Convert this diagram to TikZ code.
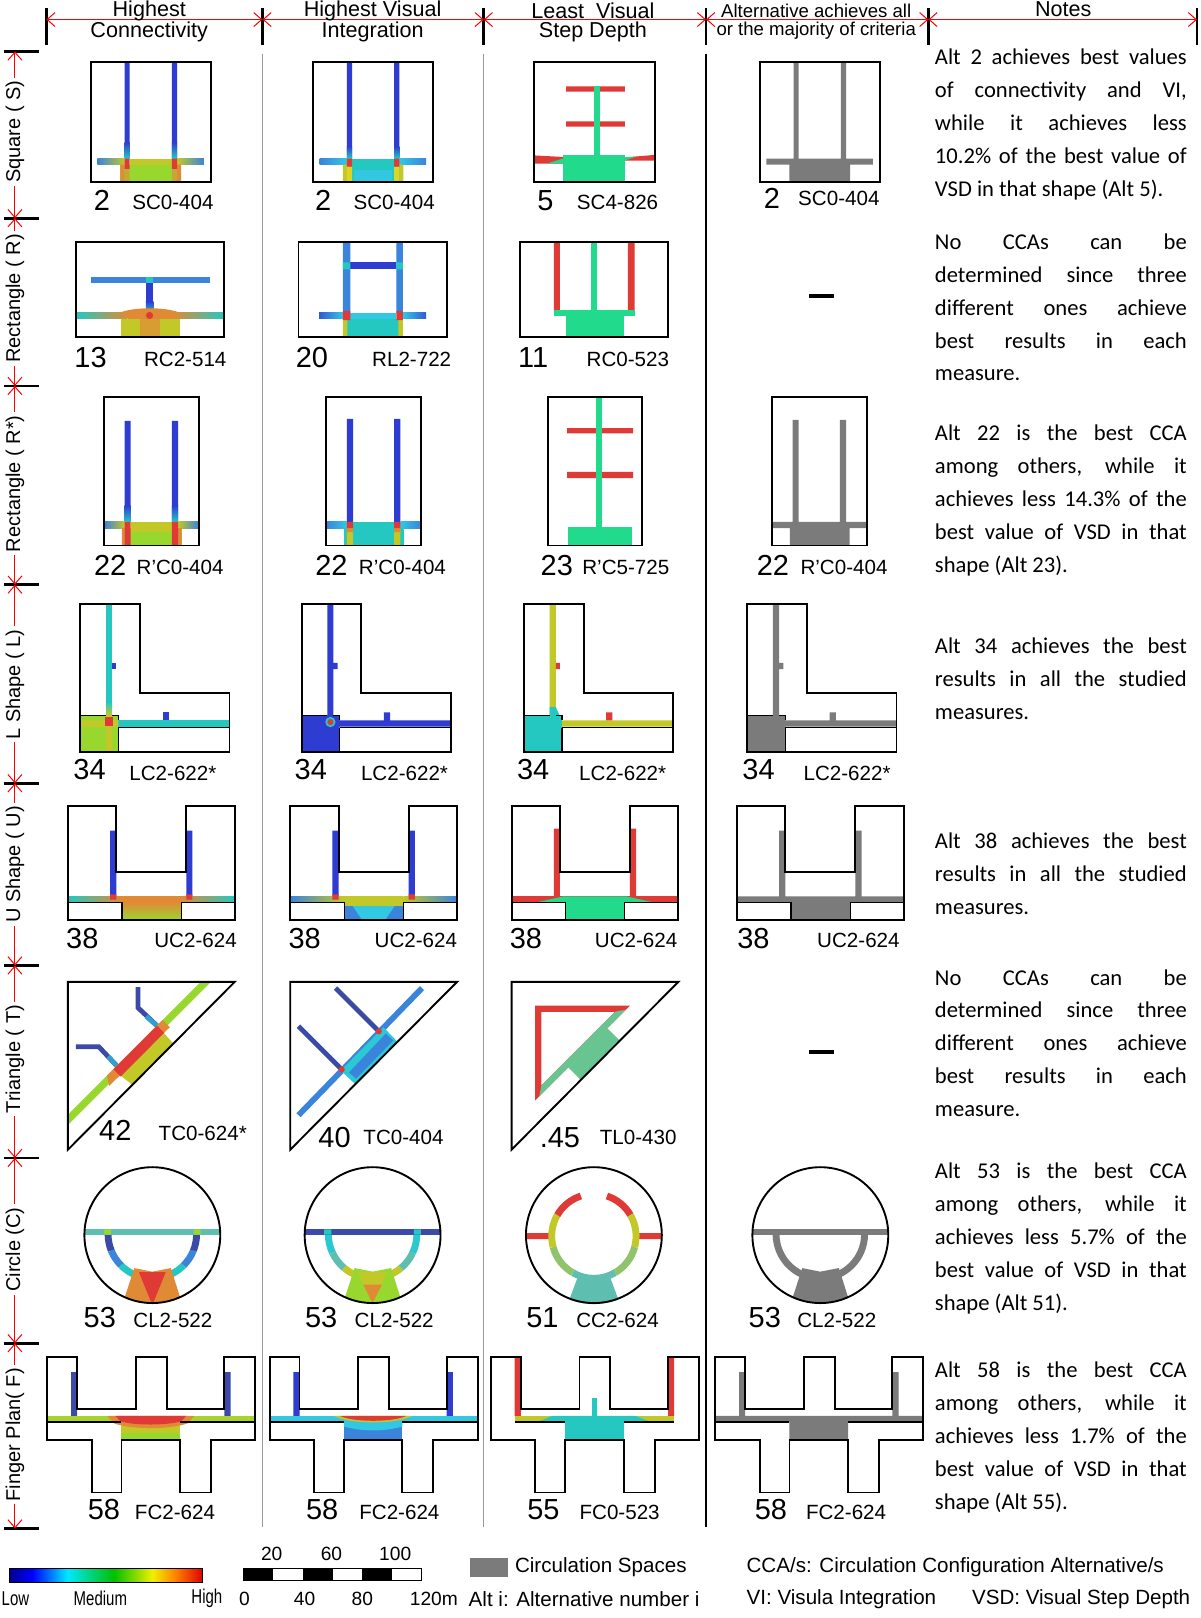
\documentclass[tikz,border=0pt]{standalone}
\usepackage{fontspec}
\setmainfont{Liberation Sans}
\newfontfamily\notesfont{Carlito}
\newfontfamily\condfont[FakeStretch=0.75]{Liberation Sans}
\usetikzlibrary{arrows.meta}
\definecolor{cDB}{HTML}{2F3CD2}
\definecolor{cNV}{HTML}{3A4AA6}
\definecolor{cMB}{HTML}{3A84DC}
\definecolor{cCY}{HTML}{24C8C0}
\definecolor{cLC}{HTML}{32C8E2}
\definecolor{cGR}{HTML}{22DA8C}
\definecolor{cYG}{HTML}{98D82E}
\definecolor{cOL}{HTML}{C2C828}
\definecolor{cYE}{HTML}{E6DC20}
\definecolor{cOR}{HTML}{E08A36}
\definecolor{cRD}{HTML}{E03A36}
\definecolor{cTL}{HTML}{5EBFB0}
\definecolor{cGY}{HTML}{7B7B7B}
\definecolor{cTG}{HTML}{68C490}
\definecolor{jA}{HTML}{00008F}
\definecolor{jB}{HTML}{0000FF}
\definecolor{jC}{HTML}{00E8FF}
\definecolor{jD}{HTML}{00C000}
\definecolor{jE}{HTML}{F0F000}
\definecolor{jF}{HTML}{FF8000}
\definecolor{jG}{HTML}{E00000}
\pgfdeclarehorizontalshading{jet}{100bp}{color(0bp)=(jA); color(25bp)=(jA); color(31bp)=(jB); color(40bp)=(jC); color(52bp)=(jD); color(62bp)=(jE); color(68bp)=(jF); color(75bp)=(jG); color(100bp)=(jG)}
\newcommand\Loutline{\draw[wall] (0,0) -- (58,0) -- (58,86) -- (145,86) -- (145,144) -- (0,144) -- cycle;}
\newcommand\Llines{\draw[inwall] (0,108) -- (25,108) (31,108) -- (37,108) -- (37,113) (37,120) -- (145,120) (37,120) -- (37,144);}
\newcommand\Uoutline{\draw[wall] (0,0) -- (47,0) -- (47,64) -- (115,64) -- (115,0) -- (162,0) -- (162,111) -- (0,111) -- cycle;}
\newcommand\Ulines{\draw[inwall] (0,93.5) -- (52.5,93.5) -- (52.5,111) (162,93.5) -- (110,93.5) -- (110,111);}
\newcommand\Toutline{\draw[wall] (0,0) -- (162,0) -- (0,163) -- cycle;}
\newcommand\Foutline{\draw[wall] (0,0) -- (29,0) -- (29,51) -- (86,51) -- (86,0) -- (116,0) -- (116,51) -- (172,51) -- (172,0) -- (202,0) -- (202,81) -- (159,81) -- (159,132) -- (129,132) -- (129,81) -- (72,81) -- (72,132) -- (43,132) -- (43,81) -- (0,81) -- cycle;}
\newcommand\Flines{\draw[inwall] (0,63.5) -- (72,63.5) (202,63.5) -- (129,63.5);}
\begin{document}
\begin{tikzpicture}[x=0.515pt,y=-0.515pt,
 wall/.style={draw=black,line width=0.95pt,line join=miter},
 inwall/.style={draw=black,line width=0.6pt},
 ring/.style={line width=3.45pt},
 lbl/.style={inner sep=0pt,font=\fontsize{10.3}{12}\selectfont},
 num/.style={inner sep=0pt,font=\fontsize{14.5}{16}\selectfont},
 hdr/.style={inner sep=0pt,font=\fontsize{10.8}{12}\selectfont},
 hdrs/.style={inner sep=0pt,font=\fontsize{9.3}{11}\selectfont},
 rowlbl/.style={inner sep=1.5pt,fill=white,rotate=90,font=\fontsize{10}{12}\selectfont},
 note/.style={inner sep=0pt,anchor=base west,text width=126pt,align=justify,font=\notesfont\fontsize{11.3}{16.5}\selectfont},
 leg/.style={inner sep=0pt,anchor=west,font=\fontsize{10.3}{12}\selectfont},
 legn/.style={inner sep=0pt,font=\fontsize{9.6}{11}\selectfont},
 legc/.style={inner sep=0pt,font=\condfont\fontsize{10}{12}\selectfont},
 redarr/.style={draw=red,line width=0.5pt,{Straight Barb[length=4pt,width=7pt]}-{Straight Barb[length=4pt,width=7pt]}},
 tick/.style={line width=1.4pt},
 branch/.style={line width=2.4pt,line join=miter},
 gdiv/.style={draw=black!40,line width=0.5pt},
 bdiv/.style={draw=black,line width=1.1pt},
]
\useasboundingbox (0,0) rectangle (1166,1572);
\fill[white] (0,0) rectangle (1166,1572);
% ---------- header ----------
\foreach \x in {45,255,470,686,902,1163} \draw[tick] (\x,8) -- (\x,44);
\coordinate (h1) at (45,19); \coordinate (h2) at (255,19); \coordinate (h3) at (470,19);
\coordinate (h4) at (686,19); \coordinate (h5) at (902,19); \coordinate (h6) at (1163,19);
\draw[redarr] (h1) -- (h2); \draw[redarr] (h2) -- (h3); \draw[redarr] (h3) -- (h4);
\draw[redarr] (h4) -- (h5); \draw[redarr] (h5) -- (h6);
\node[hdr] (t1a) at (145,10.5) {Highest};
\node[hdr] (t1b) at (145,31.5) {Connectivity};
\node[hdr] (t2a) at (362,10.5) {Highest Visual};
\node[hdr] (t2b) at (362,31.5) {Integration};
\node[hdr] (t3a) at (576,10.5) {Least\ \ Visual};
\node[hdr] (t3b) at (576,31.5) {Step Depth};
\node[hdrs] (t4a) at (793,11) {Alternative achieves all};
\node[hdrs] (t4b) at (793,30) {or the majority of criteria};
\node[hdr] (t5) at (1033,9) {Notes};
% ---------- dividers ----------
\draw[gdiv] (255,52) -- (255,1484);
\draw[gdiv] (470,52) -- (470,1484);
\draw[bdiv] (686,52) -- (686,1484);
% ---------- left ruler ----------
\foreach \y in {50,212,375,568,761,938,1125,1305,1485} \draw[tick] (4,\y) -- (38,\y);
\coordinate (r0) at (14.5,50); \coordinate (r1) at (14.5,212); \coordinate (r2) at (14.5,375);
\coordinate (r3) at (14.5,568); \coordinate (r4) at (14.5,761); \coordinate (r5) at (14.5,938);
\coordinate (r6) at (14.5,1125); \coordinate (r7) at (14.5,1305); \coordinate (r8) at (14.5,1485);
\draw[redarr] (r0) -- (r1); \draw[redarr] (r1) -- (r2); \draw[redarr] (r2) -- (r3);
\draw[redarr] (r3) -- (r4); \draw[redarr] (r4) -- (r5); \draw[redarr] (r5) -- (r6);
\draw[redarr] (r6) -- (r7); \draw[redarr] (r7) -- (r8);
\node[rowlbl] (lS) at (14.5,128) {Square ( S)};
\node[rowlbl] (lR) at (14.5,290) {Rectangle ( R)};
\node[rowlbl] (lRs) at (14.5,470) {Rectangle ( R*)};
\node[rowlbl] (lL) at (14.5,665) {L Shape ( L)};
\node[rowlbl] (lU) at (14.5,840) {U Shape ( U)};
\node[rowlbl] (lT) at (14.5,1029) {Triangle ( T)};
\node[rowlbl] (lC) at (14.5,1214) {Circle (C)};
\node[rowlbl] (lF) at (14.5,1394) {Finger Plan( F)};
% ================= ROW S =================
\begin{scope}[shift={(88,60)}]
\fill[cDB] (33,0) rectangle (38,94) (79,0) rectangle (84,94);
\shade[top color=cDB,bottom color=cCY] (33,78) rectangle (38,94);
\shade[top color=cDB,bottom color=cCY] (79,78) rectangle (84,94);
\shade[left color=cMB,right color=cOL] (6.5,94) rectangle (33,100);
\shade[left color=cOL,right color=cMB] (84,94) rectangle (110,100);
\fill[cOL] (38,94) rectangle (79,100);
\fill[cYG] (29,100) rectangle (88,117);
\fill[cOR] (29,100) rectangle (33,117) (84,100) rectangle (88,117);
\fill[cOR!60!cYG] (33,104) rectangle (38,117) (79,104) rectangle (84,117);
\fill[cRD] (33,94) rectangle (38,104) (79,94) rectangle (84,104);
\draw[wall] (0,0) rectangle (117,117);
\end{scope}
\begin{scope}[shift={(304,60)}]
\fill[cDB] (33,0) rectangle (38,94) (79,0) rectangle (84,94);
\shade[top color=cDB,bottom color=cCY] (33,82) rectangle (38,94);
\shade[top color=cDB,bottom color=cCY] (79,82) rectangle (84,94);
\shade[left color=cMB,right color=cLC] (6.5,94) rectangle (33,100);
\shade[left color=cLC,right color=cMB] (84,94) rectangle (110,100);
\fill[cCY] (38,94) rectangle (79,100);
\fill[cCY] (29,100) rectangle (88,117);
\fill[cLC] (40,105) rectangle (77,117);
\fill[cOL] (29,100) rectangle (33,117) (84,100) rectangle (88,117);
\fill[cYE!70!cOL] (33,102) rectangle (38,117) (79,102) rectangle (84,117);
\fill[cRD] (33,94) rectangle (38,102) (79,94) rectangle (84,102);
\draw[wall] (0,0) rectangle (117,117);
\end{scope}
\begin{scope}[shift={(519,60)}]
\fill[cRD] (31,24) rectangle (88,29) (31,58) rectangle (88,63);
\fill[cGR] (58,24) rectangle (64,92);
\fill[cGR] (28,91) rectangle (88,117);
\fill[cRD] (0,91) -- (28,92.5) -- (28,99) -- (0,99) -- cycle;
\fill[cGR] (12,99) -- (28,94) -- (28,99) -- cycle;
\fill[cRD] (88,93) -- (117,90.5) -- (117,96) -- (88,96) -- cycle;
\fill[cGR] (88,93) -- (100,92) -- (88,96) -- cycle;
\draw[wall] (0,0) rectangle (117,117);
\end{scope}
\begin{scope}[shift={(738,60)}]
\fill[cGY] (33,0) rectangle (38,94) (79,0) rectangle (84,94) (6.5,94) rectangle (110,100) (29,100) rectangle (88,117);
\draw[wall] (0,0) rectangle (117,117);
\end{scope}
\node[num] (nS1) at (99,195) {2};   \node[lbl] (cS1) at (168,197) {SC0-404};
\node[num] (nS2) at (314,195) {2};  \node[lbl] (cS2) at (383,197) {SC0-404};
\node[num] (nS3) at (530,195) {5};  \node[lbl] (cS3) at (600,197) {SC4-826};
\node[num] (nS4) at (750,193) {2};  \node[lbl] (cS4) at (815,193) {SC0-404};
% ================= ROW R =================
\begin{scope}[shift={(74,235)}]
\fill[cMB] (14.4,34.5) rectangle (129.6,40);
\fill[cCY] (67.7,34.5) rectangle (74.9,40);
\fill[cDB] (67.7,40) rectangle (74.9,62);
\shade[top color=cDB,bottom color=cCY] (67.7,58) rectangle (74.9,69);
\shade[left color=cCY,right color=cOR] (0,69) rectangle (50,74.5);
\fill[cOR] (50,69) rectangle (94,74.5);
\shade[left color=cOR,right color=cCY] (94,69) rectangle (144,74.5);
\fill[cOR] (42,69) .. controls (55,63) and (88,63) .. (101,69) -- cycle;
\fill[cOL] (43.2,74.5) rectangle (100.8,92);
\fill[cOR!70!cOL] (62,74.5) rectangle (81,92);
\fill[cRD] (71.3,71.5) circle (3.5);
\draw[wall] (0,0) rectangle (144,92);
\end{scope}
\begin{scope}[shift={(290,235)}]
\fill[cMB] (43.2,0) rectangle (50.4,69) (95,0) rectangle (101.5,69);
\fill[cDB] (50.4,20) rectangle (95,26.7);
\fill[cCY] (43.2,20) rectangle (50.4,26.7) (95,20) rectangle (101.5,26.7);
\shade[left color=cDB!60!cMB,right color=cLC] (20,69) rectangle (43.2,74.5);
\shade[left color=cLC,right color=cDB!60!cMB] (101.5,69) rectangle (124,74.5);
\fill[cLC] (50.4,69) rectangle (95,74.5);
\fill[cCY] (43.2,74.5) rectangle (101.5,92);
\fill[cOL] (43.2,74.5) rectangle (47.5,92) (97,74.5) rectangle (101.5,92);
\fill[cRD] (43.2,67) rectangle (50.4,76) (95,67) rectangle (101.5,76);
\draw[wall] (0,0) rectangle (144,92);
\end{scope}
\begin{scope}[shift={(505,235)}]
\fill[cRD] (33,0) rectangle (39,69) (105,0) rectangle (111.5,69);
\fill[cGR] (69,0) rectangle (75,69);
\fill[cGR] (33,66) rectangle (111.5,72.5);
\fill[cGR] (45,72.5) rectangle (101,92);
\draw[wall] (0,0) rectangle (144,92);
\end{scope}
\draw[line width=2pt] (786,288) -- (810,288);
\node[num] (nR1) at (88,347) {13};   \node[lbl] (cR1) at (180,349) {RC2-514};
\node[num] (nR2) at (303,347) {20};  \node[lbl] (cR2) at (400,349) {RL2-722};
\node[num] (nR3) at (518,347) {11};  \node[lbl] (cR3) at (610,349) {RC0-523};
% ================= ROW R* =================
\begin{scope}[shift={(101,386)}]
\fill[cDB] (20,23) rectangle (26,121) (66,23) rectangle (72,121);
\shade[top color=cDB,bottom color=cCY] (20,105) rectangle (26,121);
\shade[top color=cDB,bottom color=cCY] (66,105) rectangle (72,121);
\shade[left color=cMB,right color=cOL] (0,121) rectangle (20,127);
\shade[left color=cOL,right color=cMB] (72,121) rectangle (92,127);
\fill[cOL] (26,121) rectangle (66,127);
\fill[cYG] (17.5,127) rectangle (75.5,144);
\fill[cOL] (26,127) rectangle (66,131);
\fill[cOR] (17.5,127) rectangle (20,144) (72,127) rectangle (75.5,144);
\fill[cRD] (20,121) rectangle (26,144) (66,121) rectangle (72,144);
\draw[wall] (0,0) rectangle (92,144);
\end{scope}
\begin{scope}[shift={(317,386)}]
\fill[cDB] (20,21) rectangle (26,121) (66,21) rectangle (72,121);
\shade[left color=cMB,right color=cLC] (0,121) rectangle (20,127);
\shade[left color=cLC,right color=cMB] (72,121) rectangle (92,127);
\fill[cCY] (26,121) rectangle (66,127);
\fill[cCY] (17.5,127) rectangle (75.5,144);
\fill[cOL] (20,128) rectangle (26,144) (66,128) rectangle (72,144);
\fill[cOR] (20,126) rectangle (26,131) (66,126) rectangle (72,131);
\fill[cRD] (20,121) rectangle (26,127) (66,121) rectangle (72,127);
\draw[wall] (0,0) rectangle (92,144);
\end{scope}
\begin{scope}[shift={(532,386)}]
\fill[cRD] (19,30) rectangle (83,35) (19,72.5) rectangle (83,78.5);
\fill[cGR] (47,0) rectangle (53,126);
\fill[cGR] (20,126) rectangle (82,144);
\draw[wall] (0,0) rectangle (92,144);
\end{scope}
\begin{scope}[shift={(750,386)}]
\fill[cGY] (20,22) rectangle (26,121) (66,22) rectangle (72,121) (0,121) rectangle (92,127) (17.5,127) rectangle (75.5,144);
\draw[wall] (0,0) rectangle (92,144);
\end{scope}
\node[num] (nQ1) at (107,549) {22};  \node[lbl] (cQ1) at (175,551) {R'C0-404};
\node[num] (nQ2) at (322,549) {22};  \node[lbl] (cQ2) at (391,551) {R'C0-404};
\node[num] (nQ3) at (541,549) {23};  \node[lbl] (cQ3) at (608,551) {R'C5-725};
\node[num] (nQ4) at (751,549) {22};  \node[lbl] (cQ4) at (820,551) {R'C0-404};
% ================= ROW L =================
\begin{scope}[shift={(78,587)}]
\fill[cCY] (25,0) rectangle (31,108);
\fill[cDB] (31,57) rectangle (35,63);
\fill[cCY] (37,113) rectangle (145,119);
\fill[cDB] (80,105) rectangle (86,113);
\fill[cYG] (0,108) rectangle (37,144);
\fill[cOL] (25,108) rectangle (31,144) (0,113) rectangle (37,119);
\shade[top color=cCY,bottom color=cOL] (25,95) rectangle (31,108);
\fill[cRD] (24,110) rectangle (32,118);
\Llines \Loutline
\end{scope}
\begin{scope}[shift={(293,587)}]
\fill[cDB] (25,0) rectangle (31,108) (31,57) rectangle (35,63) (37,113) rectangle (145,119) (80,105) rectangle (86,113) (0,108) rectangle (37,144);
\fill[cCY] (28,114.5) circle (5);
\fill[cRD] (28,114.5) circle (3);
\Llines \Loutline
\end{scope}
\begin{scope}[shift={(509,587)}]
\fill[cOL] (25,0) rectangle (31,108) (37,113) rectangle (145,119);
\fill[cRD] (31,57) rectangle (35,63) (80,105) rectangle (86,113);
\fill[cCY] (0,108) rectangle (37,144);
\fill[cCY] (25,100) -- (31,100) -- (37,113) -- (37,119) -- (25,119) -- cycle;
\Llines \Loutline
\end{scope}
\begin{scope}[shift={(726,587)}]
\fill[cGY] (25,0) rectangle (31,108) (31,57) rectangle (35,63) (37,113) rectangle (145,119) (80,105) rectangle (86,113) (0,108) rectangle (37,144);
\Llines \Loutline
\end{scope}
\node[num] (nL1) at (87,748) {34};   \node[lbl] (cL1) at (168,751) {LC2-622*};
\node[num] (nL2) at (302,748) {34};  \node[lbl] (cL2) at (393,751) {LC2-622*};
\node[num] (nL3) at (518,748) {34};  \node[lbl] (cL3) at (605,751) {LC2-622*};
\node[num] (nL4) at (737,748) {34};  \node[lbl] (cL4) at (823,751) {LC2-622*};
% ================= ROW U =================
\begin{scope}[shift={(66,783)}]
\fill[cDB] (41,24) rectangle (47,88) (115,24) rectangle (121,88);
\shade[left color=cCY,right color=cOR] (0,88) rectangle (52,93.5);
\fill[cOR] (52,88) rectangle (110,93.5);
\shade[left color=cOR,right color=cCY] (110,88) rectangle (162,93.5);
\shade[top color=cOR,bottom color=cYG] (52.5,93.5) rectangle (110,111);
\fill[cRD] (41,86) rectangle (47,91) (115,86) rectangle (121,91);
\Ulines \Uoutline
\end{scope}
\begin{scope}[shift={(282,783)}]
\fill[cDB] (41,24) rectangle (47,88) (115,24) rectangle (121,88);
\shade[left color=cMB,right color=cOL] (0,88) rectangle (52,93.5);
\fill[cOL] (52,88) rectangle (110,93.5);
\shade[left color=cOL,right color=cMB] (110,88) rectangle (162,93.5);
\fill[cMB] (52.5,93.5) rectangle (110,111);
\fill[cLC] (58,93.5) -- (104,93.5) -- (92,111) -- (70,111) -- cycle;
\fill[cOL] (52.5,93.5) rectangle (110,97);
\fill[cRD] (41,86) rectangle (47,91) (115,86) rectangle (121,91);
\Ulines \Uoutline
\end{scope}
\begin{scope}[shift={(497,783)}]
\fill[cRD] (41,22) rectangle (47,88) (115,22) rectangle (121,88);
\fill[cRD] (0,88) rectangle (162,93.5);
\fill[cGR] (25,93.5) -- (50,88) -- (112,88) -- (137,93.5) -- cycle;
\fill[cGR] (52.5,93.5) rectangle (110,111);
\Ulines \Uoutline
\end{scope}
\begin{scope}[shift={(716,783)}]
\fill[cGY] (41,24) rectangle (47,88) (115,24) rectangle (121,88) (0,88) rectangle (162,93.5) (52.5,93.5) rectangle (110,111);
\Ulines \Uoutline
\end{scope}
\node[num] (nU1) at (80,912) {38};   \node[lbl] (cU1) at (190,914) {UC2-624};
\node[num] (nU2) at (296,912) {38};  \node[lbl] (cU2) at (404,914) {UC2-624};
\node[num] (nU3) at (511,912) {38};  \node[lbl] (cU3) at (618,914) {UC2-624};
\node[num] (nU4) at (732,912) {38};  \node[lbl] (cU4) at (834,914) {UC2-624};
% ================= ROW T =================
\begin{scope}[shift={(66,954)}]
\draw[branch,cNV] (68,5) -- (68,25) -- (86.5,42.5);
\draw[branch,cMB!60!cCY] (76,33.5) -- (86.5,42.5);
\draw[branch,cNV] (7.6,63) -- (30,63) -- (48,82);
\draw[branch,cMB!60!cCY] (39,72.5) -- (48,82);
\fill[cYG] (129,0) -- (139,0) -- (0,139) -- (0,129) -- cycle;
\fill[cOL] (87.8,43.7) -- (102.5,60) -- (63.3,100.4) -- (47.7,88.4) -- cycle;
\fill[cOR] (92,37) -- (99,44) -- (40,101) -- (38,91) -- cycle;
\fill[cRD] (86.5,42.5) -- (93.5,49.4) -- (51.2,91.9) -- (44.2,84.9) -- cycle;
\Toutline
\end{scope}
\begin{scope}[shift={(282,954)}]
\draw[branch,cNV] (86,48) -- (44,6);
\draw[branch,cNV] (50,85) -- (8,43);
\draw[line width=2.9pt,cMB] (128,6) -- (8,129.5);
\fill[cLC!60!cCY] (90.5,44) -- (104,58) -- (63.7,99.8) -- (49,86) -- cycle;
\fill[cMB] (93,50) -- (100,57) -- (64,94) -- (57,88) -- cycle;
\fill[cRD] (86,48) circle (3) (50,85) circle (3);
\Toutline
\end{scope}
\begin{scope}[shift={(497,954)}]
\fill[cRD,even odd rule] (23,23) -- (115,23) -- (23,115) -- cycle (29,29) -- (100.5,29) -- (29,100.5) -- cycle;
\fill[cTG] (111,27) -- (27,111) -- (29,100.5) -- (100.5,29) -- cycle;
\fill[cTG] (93,45) -- (105,57) -- (67,95) -- (55,83) -- cycle;
\Toutline
\end{scope}
\draw[line width=2pt] (786,1022) -- (810,1022);
\node[num] (nT1) at (112,1098) {42};  \node[lbl] (cT1) at (197,1101) {TC0-624*};
\node[num] (nT2) at (325,1105) {40};  \node[lbl] (cT2) at (392,1105) {TC0-404};
\node[num] (nT3) at (544,1105) {.45}; \node[lbl] (cT3) at (620,1105) {TL0-430};
% ================= ROW C =================
\begin{scope}[shift={(148,1200)}]
 \begin{scope}
  \clip (0,0) circle (66);
  \begin{scope}[shift={(0,-1)}]
   \draw[ring,cNV] (180:43) arc (180:158:43);
   \draw[ring,cMB] (158:43) arc (158:135:43);
   \draw[ring,cCY] (135:43) arc (135:115:43);
   \draw[ring,cYG] (115:43) arc (115:65:43);
   \draw[ring,cCY] (65:43) arc (65:45:43);
   \draw[ring,cMB] (45:43) arc (45:22:43);
   \draw[ring,cNV] (22:43) arc (22:0:43);
  \end{scope}
  \fill[cTL] (-70,-5.5) rectangle (70,-0.5);
  \fill[cYG] (-47,-5.5) rectangle (-40,-0.5) (40,-5.5) rectangle (47,-0.5);
  \fill[cOR] (-17.5,32) -- (0,35.5) -- (18,32) -- (30,70) -- (-30,70) -- cycle;
  \fill[cRD] (-13,36) -- (13,36) -- (0,68) -- cycle;
 \end{scope}
 \draw[wall] (0,0) circle (66);
\end{scope}
\begin{scope}[shift={(362,1200)}]
 \begin{scope}
  \clip (0,0) circle (66);
  \begin{scope}[shift={(0,-1)}]
   \draw[ring,cLC!50!cCY] (180:43) arc (180:155:43);
   \draw[ring,cTL] (155:43) arc (155:130:43);
   \draw[ring,cOL] (130:43) arc (130:110:43);
   \draw[ring,cYG] (110:43) arc (110:70:43);
   \draw[ring,cOL] (70:43) arc (70:50:43);
   \draw[ring,cTL] (50:43) arc (50:25:43);
   \draw[ring,cLC!50!cCY] (25:43) arc (25:0:43);
  \end{scope}
  \fill[cNV] (-70,-5.5) rectangle (70,-0.5);
  \fill[cCY] (-47,-5.5) rectangle (-40,-0.5) (40,-5.5) rectangle (47,-0.5);
  \fill[cYG] (-17.5,32) -- (0,35.5) -- (18,32) -- (30,70) -- (-30,70) -- cycle;
  \fill[cOL] (-14,36) -- (14,36) -- (8,50) -- (-8,50) -- cycle;
  \fill[cOR] (-9,48) -- (9,48) -- (0,66) -- cycle;
 \end{scope}
 \draw[wall] (0,0) circle (66);
\end{scope}
\begin{scope}[shift={(577,1201)}]
 \begin{scope}
  \clip (0,0) circle (66);
  \fill[cRD] (-70,-3) rectangle (-40,3) (40,-3) rectangle (70,3);
  \draw[ring,cRD] (288:41) arc (288:330:41);
  \draw[ring,cOL] (330:41) arc (330:375:41);
  \draw[ring,cOL!50!cTL] (15:41) arc (15:60:41);
  \draw[ring,cTL] (60:41) arc (60:120:41);
  \draw[ring,cOL!50!cTL] (120:41) arc (120:165:41);
  \draw[ring,cOL] (165:41) arc (165:210:41);
  \draw[ring,cRD] (210:41) arc (210:252:41);
  \fill[cTL] (-15,38) -- (15,38) -- (27,70) -- (-27,70) -- cycle;
 \end{scope}
 \draw[wall] (0,-1) circle (66);
\end{scope}
\begin{scope}[shift={(797,1200)}]
 \begin{scope}
  \clip (0,0) circle (66);
  \draw[ring,cGY] (0,-1) ++(180:43) arc (180:0:43);
  \fill[cGY] (-70,-5.5) rectangle (70,-0.5);
  \fill[cGY] (-17.5,32) -- (0,35.5) -- (18,32) -- (30,70) -- (-30,70) -- cycle;
 \end{scope}
 \draw[wall] (0,0) circle (66);
\end{scope}
\node[num] (nC1) at (97,1280) {53};  \node[lbl] (cC1) at (168,1283) {CL2-522};
\node[num] (nC2) at (312,1280) {53}; \node[lbl] (cC2) at (383,1283) {CL2-522};
\node[num] (nC3) at (527,1280) {51}; \node[lbl] (cC3) at (600,1283) {CC2-624};
\node[num] (nC4) at (743,1280) {53}; \node[lbl] (cC4) at (813,1283) {CL2-522};
% ================= ROW F =================
\begin{scope}[shift={(46,1318)}]
\fill[cNV] (23,15) rectangle (29,57.5) (172,15) rectangle (178,57.5);
\fill[cYG!60!cOL] (0,57.5) rectangle (202,63.5);
\fill[cOL] (72,63.5) rectangle (129,81);
\fill[cYG] (72,74) rectangle (129,81);
\fill[cOR] (58,57.5) -- (143,57.5) -- (136,65) .. controls (118,71) and (83,71) .. (65,65) -- cycle;
\fill[cRD] (66,57.5) -- (135,57.5) -- (130,63) .. controls (115,67) and (85,67) .. (71,63) -- cycle;
\Flines \Foutline
\end{scope}
\begin{scope}[shift={(262,1318)}]
\fill[cDB] (23,15) rectangle (29,57.5) (172,15) rectangle (178,57.5);
\fill[cLC] (0,57.5) rectangle (202,63.5);
\fill[cMB] (72,63.5) rectangle (129,81);
\fill[cLC] (72,63.5) -- (129,63.5) -- (129,68) .. controls (110,73) and (91,73) .. (72,68) -- cycle;
\fill[cOL] (62,57.5) -- (139,57.5) .. controls (124,66) and (77,66) .. (62,57.5) -- cycle;
\fill[cRD] (68,57.5) -- (133,57.5) .. controls (120,64) and (81,64) .. (68,57.5) -- cycle;
\Flines \Foutline
\end{scope}
\begin{scope}[shift={(477,1318)}]
\fill[cRD] (23,0) rectangle (29,57.5) (172,0) rectangle (178,57.5);
\fill[cCY] (98.5,40.5) rectangle (103.5,57.5);
\fill[cOL] (23,57.5) rectangle (178,63.5);
\fill[cCY] (45,63.5) -- (60,57.5) -- (140,57.5) -- (155,63.5) -- cycle;
\fill[cCY] (72,63.5) rectangle (129,81);
\draw[inwall] (23,63.5) -- (72,63.5) (178,63.5) -- (129,63.5);
\Foutline
\end{scope}
\begin{scope}[shift={(695,1318)}]
\fill[cGY] (23,15) rectangle (29,57.5) (172,15) rectangle (178,57.5) (0,57.5) rectangle (202,63.5) (72,63.5) rectangle (129,81);
\Flines \Foutline
\end{scope}
\node[num] (nF1) at (101,1467) {58};  \node[lbl] (cF1) at (170,1469) {FC2-624};
\node[num] (nF2) at (313,1467) {58};  \node[lbl] (cF2) at (388,1469) {FC2-624};
\node[num] (nF3) at (528,1467) {55};  \node[lbl] (cF3) at (602,1469) {FC0-523};
\node[num] (nF4) at (749,1467) {58};  \node[lbl] (cF4) at (822,1469) {FC2-624};
% ================= NOTES =================
\node[note] (o1) at (908,63) {Alt 2 achieves best values\linebreak of connectivity and VI,\linebreak while it achieves less\linebreak 10.2\% of the best value of\linebreak VSD in that shape (Alt 5).};
\node[note] (o2) at (908,242) {No CCAs can be\linebreak determined since three\linebreak different ones achieve\linebreak best results in each\linebreak measure.};
\node[note] (o3) at (908,428) {Alt 22 is the best CCA\linebreak among others, while it\linebreak achieves less 14.3\% of the\linebreak best value of VSD in that\linebreak shape (Alt 23).};
\node[note] (o4) at (908,635) {Alt 34 achieves the best\linebreak results in all the studied\linebreak measures.};
\node[note] (o5) at (908,824) {Alt 38 achieves the best\linebreak results in all the studied\linebreak measures.};
\node[note] (o6) at (908,957) {No CCAs can be\linebreak determined since three\linebreak different ones achieve\linebreak best results in each\linebreak measure.};
\node[note] (o7) at (908,1145) {Alt 53 is the best CCA\linebreak among others, while it\linebreak achieves less 5.7\% of the\linebreak best value of VSD in that\linebreak shape (Alt 51).};
\node[note] (o8) at (908,1338) {Alt 58 is the best CCA\linebreak among others, while it\linebreak achieves less 1.7\% of the\linebreak best value of VSD in that\linebreak shape (Alt 55).};
% ================= LEGEND =================
\shade[shading=jet] (9,1524) rectangle (197,1537);
\draw[line width=0.4pt] (9,1524) rectangle (197,1537);
\node[legc] (gLow) at (15,1553) {Low};
\node[legc] (gMed) at (97.5,1553) {Medium};
\node[legc] (gHigh) at (201,1553) {High};
\foreach \i in {0,2,4} \fill[black] (236.5+28.9*\i,1524) rectangle (236.5+28.9*\i+28.9,1536);
\draw[line width=0.5pt] (236.5,1524) rectangle (409.9,1536);
\node[legn] (s20) at (264,1510) {20};
\node[legn] (s60) at (322,1510) {60};
\node[legn] (s100) at (384,1510) {100};
\node[legn] (s0) at (237.5,1553) {0};
\node[legn] (s40) at (296,1553) {40};
\node[legn] (s80) at (352,1553) {80};
\node[legn] (s120) at (421.5,1553) {120m};
\fill[cGY] (457,1514) rectangle (494,1532);
\node[leg] (gCirc) at (500,1523) {Circulation Spaces};
\node[leg] (gAlt) at (455,1554) {Alt i: Alternative number i};
\node[leg] (gCCA) at (725,1523) {CCA/s: Circulation Configuration Alternative/s};
\node[leg] (gVI) at (725,1554) {VI: Visula Integration};
\node[leg] (gVSD) at (944,1554) {VSD: Visual Step Depth};
\end{tikzpicture}
\end{document}
